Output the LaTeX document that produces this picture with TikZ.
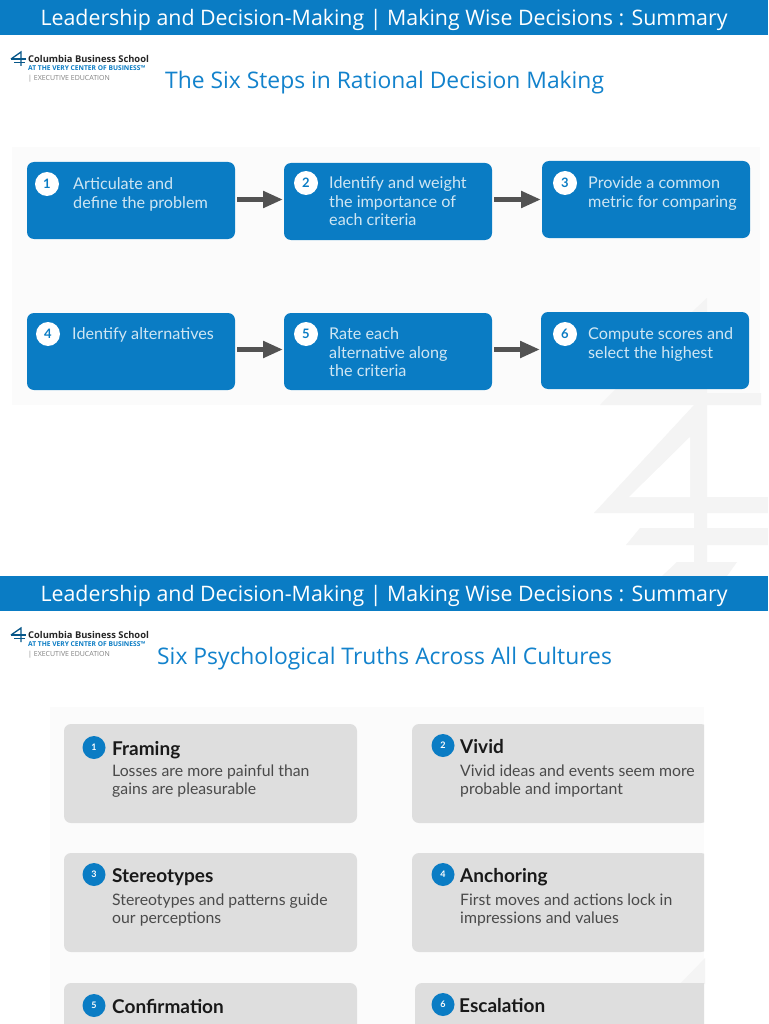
\documentclass[tikz,border=0pt]{standalone}
\usepackage{fontspec}
\setmainfont{Open Sans}
\newfontfamily\stepfont{Lato}
\usepackage{tikz}
\usetikzlibrary{arrows.meta,positioning}
\definecolor{cbsblue}{HTML}{0A7CC4}
\definecolor{cbstitle}{HTML}{1282CC}
\definecolor{steptext}{HTML}{CFE6F3}
\definecolor{truthgray}{HTML}{DEDEDE}
\definecolor{truthtext}{HTML}{4A4A4A}
\definecolor{panelgray}{HTML}{FBFBFB}
\definecolor{markgray}{HTML}{F4F4F4}
\tikzset{
  slide-banner/.style={fill=cbsblue, minimum width=768pt, minimum height=35pt, inner sep=0pt, outer sep=0pt,
    anchor=north west},
  slide-head/.style={text=white, inner sep=0pt, font=\fontsize{21.35}{24}\selectfont},
  slide-title/.style={text=cbstitle, inner sep=0pt, anchor=west, font=\fontsize{22.85}{26}\selectfont},
  logo-line/.style={inner sep=0pt, anchor=west},
  step-box/.style={fill=cbsblue, rounded corners=7pt, minimum width=208pt, minimum height=77pt,
    inner sep=0pt, outer sep=0pt, anchor=north west},
  step-label/.style={text=steptext, inner sep=0pt, anchor=north west, align=left,
    font=\stepfont\fontsize{16.2}{18.5}\selectfont},
  step-badge/.style={circle, fill=white, text=cbsblue, minimum size=24pt, inner sep=0pt,
    font=\stepfont\bfseries\fontsize{13}{15}\selectfont},
  step-arrow/.style={-{Triangle[length=20pt,width=16pt]}, line width=5pt, draw=black!68, shorten >=1pt, shorten <=2pt},
  truth-box/.style={fill=truthgray, rounded corners=7pt, minimum height=99pt,
    inner sep=0pt, outer sep=0pt, anchor=north west},
  truth-badge/.style={circle, fill=cbsblue, text=white, minimum size=23pt, inner sep=0pt,
    font=\stepfont\bfseries\fontsize{9}{11}\selectfont},
  truth-head/.style={text=black!90, inner sep=0pt, anchor=base west, font=\stepfont\bfseries\fontsize{19}{21}\selectfont},
  truth-label/.style={text=truthtext, inner sep=0pt, anchor=north west, align=left,
    font=\stepfont\fontsize{15.8}{17.8}\selectfont}
}

\begin{document}
\begin{tikzpicture}[>=Latex, x=1pt, y=-1pt]
  \clip (0,0) rectangle (768,1024);
  \fill[white] (0,0) rectangle (768,1024);

  % Panels behind the boxes
  \fill[panelgray] (12,147) rectangle (760,405);
  \fill[panelgray] (50,707) rectangle (704,1024);

  % Watermark
  \fill[markgray] (694,310) -- (707,298) -- (707,393) -- (761,393) -- (761,405) -- (600,405) -- cycle;
  \fill[markgray] (694,405) -- (707,405) -- (707,497) -- (768,497) -- (768,513) -- (707,513) -- (707,528)
    -- (768,528) -- (768,545) -- (707,545) -- (707,562) -- (737,562) -- (727,576) -- (662,576) -- (677,562)
    -- (694,562) -- (694,545) -- (626,545) -- (640,528) -- (694,528) -- (694,513) -- (594,513) -- cycle;
  \fill[white] (690,437) -- (690,497) -- (629,497) -- cycle;
  \fill[markgray] (705,958) -- (705,984) -- (680,984) -- cycle;

  % Banners, logos and titles of both slides
  \foreach \name/\y/\title/\tx in {a/0/The Six Steps in Rational Decision Making/165, b/576/Six Psychological Truths Across All Cultures/157} {
    \node[slide-banner] (banner\name) at (0,\y) {};
    \node[slide-head] (head\name) at (384,\y+20) {Leadership and Decision-Making | Making Wise Decisions : Summary};
    \node[logo-line, text=black!85, font=\bfseries\fontsize{9.36}{10}\selectfont] (school\name) at (28,\y+59) {Columbia Business School};
    \node[logo-line, text=cbsblue, font=\bfseries\fontsize{6.67}{7}\selectfont] (motto\name) at (28,\y+68.5) {AT THE VERY CENTER OF BUSINESS™};
    \node[logo-line, text=black!50, font=\fontsize{7}{8}\selectfont] (unit\name) at (28,\y+79) {| EXECUTIVE EDUCATION};
    \node[slide-title] (title\name) at (\tx,\y+83) {\title};
    % small logo mark
    \draw[cbsblue!70!black, line width=1.3pt] (11,\y+59) -- (21,\y+52) -- (21,\y+66);
    \draw[cbsblue!70!black, line width=1.3pt] (11,\y+59) -- (26,\y+59);
    \draw[cbsblue!70!black, line width=1pt] (14,\y+62.5) -- (25,\y+62.5);
  }

  % Six steps
  \foreach \name/\x/\y/\bx/\cy/\lx/\num/\txt in {
    sa/27/162/47/184/73/1/{Articulate and\\define the problem},
    sb/284/163/306/183/329/2/{Identify and weight\\the importance of\\each criteria},
    sc/542/161/565/183/588/3/{Provide a common\\metric for comparing},
    sd/27/313/48/334/72/4/{Identify alternatives},
    se/284/313/306/334/329/5/{Rate each\\alternative along\\the criteria},
    sf/541/312/565/334/588/6/{Compute scores and\\select the highest}} {
    \node[step-box] (\name) at (\x,\y) {};
    \node[step-badge] (\name n) at (\bx,\cy) {\num};
    \node[step-label] (\name t) at (\lx,\cy-6.5) {\txt};
  }
  \draw[step-arrow] ([yshift=1pt]sa.east) -- ([yshift=1pt]sa.east -| sb.west);
  \draw[step-arrow] ([yshift=2pt]sb.east) -- ([yshift=2pt]sb.east -| sc.west);
  \draw[step-arrow] ([yshift=2pt]sd.east) -- ([yshift=2pt]sd.east -| se.west);
  \draw[step-arrow] ([yshift=2pt]se.east) -- ([yshift=2pt]se.east -| sf.west);

  % Six truths, cut off at the right edge of their panel
  \begin{scope}
    \clip (50,707) rectangle (704,1024);
    \foreach \name/\x/\y/\bw/\bx/\hx/\hy/\num/\head/\txt in {
      ta/64/724/293/94/112/755/1/Framing/{Losses are more painful than\\gains are pleasurable},
      tb/412/724/296/443/460/753/2/Vivid/{Vivid ideas and events seem more\\probable and important},
      tc/64/853/293/94/112/882/3/Stereotypes/{Stereotypes and patterns guide\\our perceptions},
      td/412/853/296/443/460/882/4/Anchoring/{First moves and actions lock in\\impressions and values},
      te/64/983/293/94/112/1013/5/Confirmation/{},
      tf/415/983/296/443/459/1012/6/Escalation/{}} {
      \node[truth-box, minimum width=\bw pt] (\name) at (\x,\y) {};
      \node[truth-badge] (\name n) at (\bx,\hy-7.5) {\num};
      \node[truth-head] (\name h) at (\hx,\hy) {\head};
      \node[truth-label] (\name t) at (\hx,\y+41) {\txt};
    }
  \end{scope}
\end{tikzpicture}
\end{document}
